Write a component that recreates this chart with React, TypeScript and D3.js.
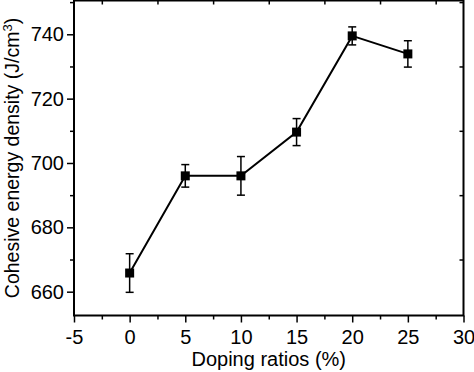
import * as d3 from 'd3';
import * as React from 'react';

// doping ratio (%) vs cohesive energy density (J/cm3)
const dopingRatios = [0, 5, 10, 15, 20, 25];
const cedValues = [665.8, 696.0, 696.0, 709.6, 739.5, 733.9];
const cedErrors = [6.0, 3.5, 6.0, 4.2, 2.8, 4.1];

const xMajorTicks = [-5, 0, 5, 10, 15, 20, 25, 30];
const xMinorTicks = [-2.5, 2.5, 7.5, 12.5, 17.5, 22.5, 27.5];
const yMajorTicks = [660, 680, 700, 720, 740];
const yMinorTicks = [670, 690, 710, 730, 750];

const width = 474;
const height = 372;
const plot = { left: 74, right: 463.5, top: 0.5, bottom: 315.5 };
const font = 'Arial, "Liberation Sans", sans-serif';
const fontSize = '20px';

export default function App() {
    const svgRef = React.useRef<SVGSVGElement>(null);

    React.useEffect(() => {
        if (!svgRef.current) return;
        const svg = d3.select(svgRef.current);
        svg.selectAll('*').remove();

        const x = d3.scaleLinear().domain([-5, 30]).range([plot.left, plot.right]);
        const y = d3.scaleLinear().domain([652.6, 750.5]).range([plot.bottom, plot.top]);

        const styleAxis = (g: d3.Selection<SVGGElement, unknown, null, undefined>) => {
            g.select('.domain').remove();
            g.selectAll('line').attr('stroke', '#000').attr('stroke-width', 1.5);
            g.selectAll('text')
                .attr('fill', '#000')
                .style('font-family', font)
                .style('font-size', fontSize);
        };

        // bottom axis
        svg.append('g')
            .attr('transform', `translate(0,${plot.bottom})`)
            .call(d3.axisBottom(x).tickValues(xMajorTicks).tickSize(7).tickPadding(7).tickFormat(d => String(d)))
            .call(styleAxis);
        svg.append('g')
            .attr('transform', `translate(0,${plot.bottom})`)
            .call(d3.axisBottom(x).tickValues(xMinorTicks).tickSize(4).tickFormat(() => ''))
            .call(styleAxis);

        // left axis
        svg.append('g')
            .attr('transform', `translate(${plot.left},0)`)
            .call(d3.axisLeft(y).tickValues(yMajorTicks).tickSize(7).tickPadding(3))
            .call(styleAxis);
        svg.append('g')
            .attr('transform', `translate(${plot.left},0)`)
            .call(d3.axisLeft(y).tickValues(yMinorTicks).tickSize(4).tickFormat(() => ''))
            .call(styleAxis);

        // top and right: minor ticks inward only
        svg.append('g')
            .attr('transform', `translate(0,${plot.top})`)
            .call(d3.axisBottom(x).tickValues(xMinorTicks).tickSize(4).tickFormat(() => ''))
            .call(styleAxis);
        svg.append('g')
            .attr('transform', `translate(${plot.right},0)`)
            .call(d3.axisLeft(y).tickValues(yMinorTicks).tickSize(4).tickFormat(() => ''))
            .call(styleAxis);

        // frame
        svg.append('rect')
            .attr('x', plot.left)
            .attr('y', plot.top)
            .attr('width', plot.right - plot.left)
            .attr('height', plot.bottom - plot.top)
            .attr('fill', 'none')
            .attr('stroke', '#000')
            .attr('stroke-width', 2);

        const data = dopingRatios.map((d, i) => ({ x: d, y: cedValues[i], e: cedErrors[i] }));

        // line
        const line = d3.line<{ x: number; y: number }>()
            .x(d => x(d.x))
            .y(d => y(d.y));
        svg.append('path')
            .datum(data)
            .attr('d', line)
            .attr('fill', 'none')
            .attr('stroke', '#000')
            .attr('stroke-width', 2);

        // error bars
        const capHalf = 4;
        const err = svg.append('g').attr('stroke', '#000').attr('stroke-width', 1.5);
        data.forEach(d => {
            const cx = x(d.x);
            err.append('line').attr('x1', cx).attr('x2', cx).attr('y1', y(d.y - d.e)).attr('y2', y(d.y + d.e));
            err.append('line').attr('x1', cx - capHalf).attr('x2', cx + capHalf).attr('y1', y(d.y + d.e)).attr('y2', y(d.y + d.e));
            err.append('line').attr('x1', cx - capHalf).attr('x2', cx + capHalf).attr('y1', y(d.y - d.e)).attr('y2', y(d.y - d.e));
        });

        // markers
        const size = 9;
        svg.append('g')
            .selectAll('rect')
            .data(data)
            .join('rect')
            .attr('x', d => x(d.x) - size / 2)
            .attr('y', d => y(d.y) - size / 2)
            .attr('width', size)
            .attr('height', size)
            .attr('fill', '#000');

        // axis titles
        svg.append('text')
            .attr('x', (plot.left + plot.right) / 2)
            .attr('y', 366)
            .attr('text-anchor', 'middle')
            .style('font-family', font)
            .style('font-size', fontSize)
            .text('Doping ratios (%)');

        const yTitle = svg.append('text')
            .attr('transform', `translate(18.5,158) rotate(-90)`)
            .attr('text-anchor', 'middle')
            .style('font-family', font)
            .style('font-size', '19.5px');
        yTitle.append('tspan').text('Cohesive energy density (J/cm');
        yTitle.append('tspan').attr('baseline-shift', 'super').style('font-size', '13px').text('3');
        yTitle.append('tspan').text(')');
    }, []);

    return (
        <div style={{ position: 'absolute', left: 0, top: 0, background: '#fff' }}>
            <svg ref={svgRef} width={width} height={height} style={{ display: 'block' }} />
        </div>
    );
}
